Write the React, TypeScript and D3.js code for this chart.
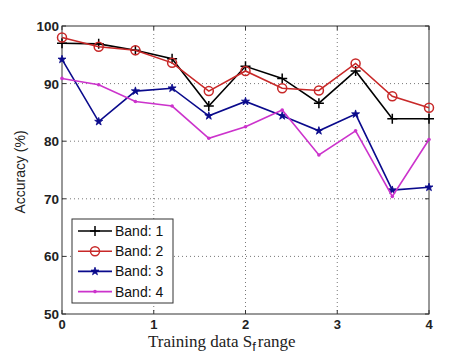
import React, { useEffect, useRef } from "react";
import * as d3 from "d3";

const xValues = [0, 0.4, 0.8, 1.2, 1.6, 2.0, 2.4, 2.8, 3.2, 3.6, 4.0];
const band1 = [97.0, 96.9, 95.8, 94.3, 86.1, 93.0, 90.9, 86.6, 92.2, 83.9, 83.9];
const band2 = [98.0, 96.4, 95.8, 93.6, 88.7, 92.2, 89.2, 88.8, 93.5, 87.8, 85.8];
const band3 = [94.2, 83.4, 88.7, 89.2, 84.4, 86.9, 84.4, 81.8, 84.7, 71.5, 72.0];
const band4 = [90.9, 89.8, 86.9, 86.1, 80.5, 82.5, 85.4, 77.6, 81.8, 70.4, 80.3];
const seriesNames = ["Band: 1", "Band: 2", "Band: 3", "Band: 4"];
const xTicks = [0, 1, 2, 3, 4];
const yTicks = [50, 60, 70, 80, 90, 100];

const App = () => {
  const chartRef = useRef<SVGSVGElement | null>(null);

  useEffect(() => {
    const svg = d3.select(chartRef.current);
    svg.selectAll("*").remove();

    const left = 62;
    const right = 429;
    const top = 26;
    const bottom = 314;

    const x = d3.scaleLinear().domain([0, 4]).range([left, right]);
    const y = d3.scaleLinear().domain([50, 100]).range([bottom, top]);

    svg.append("rect").attr("width", 474).attr("height", 359).attr("fill", "#fff");

    // grid
    const grid = svg.append("g").attr("stroke", "#555").attr("stroke-width", 0.8).attr("stroke-dasharray", "1,3");
    xTicks.slice(1, -1).forEach((t) => {
      grid.append("line").attr("x1", x(t)).attr("x2", x(t)).attr("y1", top).attr("y2", bottom);
    });
    yTicks.slice(1, -1).forEach((t) => {
      grid.append("line").attr("x1", left).attr("x2", right).attr("y1", y(t)).attr("y2", y(t));
    });

    // box
    svg
      .append("rect")
      .attr("x", left)
      .attr("y", top)
      .attr("width", right - left)
      .attr("height", bottom - top)
      .attr("fill", "none")
      .attr("stroke", "#333")
      .attr("stroke-width", 1);

    // inward ticks
    const ticks = svg.append("g").attr("stroke", "#333");
    xTicks.forEach((t) => {
      ticks.append("line").attr("x1", x(t)).attr("x2", x(t)).attr("y1", bottom).attr("y2", bottom - 4);
      ticks.append("line").attr("x1", x(t)).attr("x2", x(t)).attr("y1", top).attr("y2", top + 4);
    });
    yTicks.forEach((t) => {
      ticks.append("line").attr("x1", left).attr("x2", left + 4).attr("y1", y(t)).attr("y2", y(t));
      ticks.append("line").attr("x1", right).attr("x2", right - 4).attr("y1", y(t)).attr("y2", y(t));
    });

    // tick labels
    const labelFont = "Arial, 'Liberation Sans', sans-serif";
    svg
      .append("g")
      .selectAll("text")
      .data(xTicks)
      .enter()
      .append("text")
      .attr("x", (d) => x(d))
      .attr("y", bottom + 15)
      .attr("text-anchor", "middle")
      .attr("font-family", labelFont)
      .attr("font-size", 13)
      .attr("font-weight", "bold")
      .attr("fill", "#222")
      .text((d) => d);
    svg
      .append("g")
      .selectAll("text")
      .data(yTicks)
      .enter()
      .append("text")
      .attr("x", left - 3)
      .attr("y", (d) => y(d) + 5)
      .attr("text-anchor", "end")
      .attr("font-family", labelFont)
      .attr("font-size", 13.5)
      .attr("font-weight", "bold")
      .attr("fill", "#222")
      .text((d) => d);

    // axis titles
    svg
      .append("text")
      .attr("transform", `translate(25,172) rotate(-90)`)
      .attr("text-anchor", "middle")
      .attr("font-family", labelFont)
      .attr("font-size", 14)
      .attr("fill", "#222")
      .text("Accuracy (%)");

    const xl = svg
      .append("text")
      .attr("x", 148)
      .attr("y", 347)
      .attr("font-family", "'Liberation Serif', 'Times New Roman', serif")
      .attr("font-size", 17)
      .attr("fill", "#222");
    xl.append("tspan").text("Training data S");
    xl.append("tspan").attr("dy", 4).attr("font-size", 13).attr("font-family", labelFont).text("f");
    xl.append("tspan").attr("dy", -4).attr("dx", 2).text("range");

    const series = [
      { name: seriesNames[0], values: band1, color: "#000000", marker: "plus" },
      { name: seriesNames[1], values: band2, color: "#c82828", marker: "circle" },
      { name: seriesNames[2], values: band3, color: "#0a0a8c", marker: "star" },
      { name: seriesNames[3], values: band4, color: "#cc33cc", marker: "dot" },
    ];

    const line = d3
      .line<number>()
      .x((_, i) => x(xValues[i]))
      .y((d) => y(d));

    const drawMarker = (g: any, cx: number, cy: number, marker: string, color: string) => {
      if (marker === "plus") {
        g.append("path")
          .attr("d", `M${cx - 5},${cy}H${cx + 5}M${cx},${cy - 5}V${cy + 5}`)
          .attr("stroke", color)
          .attr("stroke-width", 1.5);
      } else if (marker === "circle") {
        g.append("circle").attr("cx", cx).attr("cy", cy).attr("r", 4.5).attr("fill", "none").attr("stroke", color).attr("stroke-width", 1.5);
      } else if (marker === "star") {
        g.append("path")
          .attr("d", d3.symbol(d3.symbolStar, 20)())
          .attr("transform", `translate(${cx},${cy})`)
          .attr("fill", color)
          .attr("stroke", color)
          .attr("stroke-width", 0.8);
      } else {
        g.append("circle").attr("cx", cx).attr("cy", cy).attr("r", 1.8).attr("fill", color);
      }
    };

    series.forEach((s) => {
      const g = svg.append("g");
      g.append("path")
        .datum(s.values)
        .attr("d", line)
        .attr("fill", "none")
        .attr("stroke", s.color)
        .attr("stroke-width", 1.6);
      s.values.forEach((v, i) => drawMarker(g, x(xValues[i]), y(v), s.marker, s.color));
    });

    // legend
    const lg = svg.append("g");
    lg.append("rect")
      .attr("x", 72)
      .attr("y", 219)
      .attr("width", 101)
      .attr("height", 84)
      .attr("fill", "#fff")
      .attr("stroke", "#333")
      .attr("stroke-width", 1);
    series.forEach((s, i) => {
      const ly = 231 + i * 20.2;
      lg.append("line")
        .attr("x1", 78)
        .attr("x2", 112)
        .attr("y1", ly)
        .attr("y2", ly)
        .attr("stroke", s.color)
        .attr("stroke-width", 1.6);
      drawMarker(lg, 95, ly, s.marker, s.color);
      lg.append("text")
        .attr("x", 115)
        .attr("y", ly + 5)
        .attr("font-family", labelFont)
        .attr("font-size", 14)
        .attr("fill", "#111")
        .text(s.name);
    });
  }, []);

  return (
    <svg
      ref={chartRef}
      width={474}
      height={359}
      style={{ position: "absolute", left: 0, top: 0 }}
    />
  );
};

export default App;
